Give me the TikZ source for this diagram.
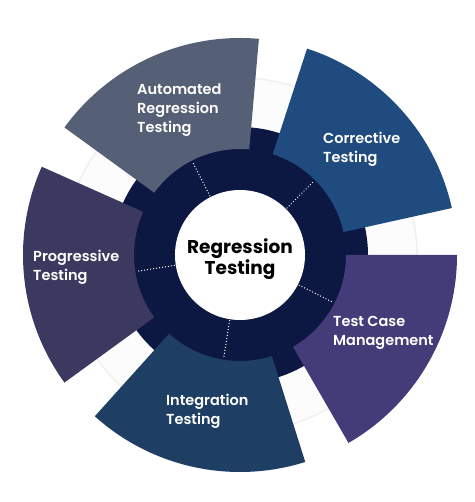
\documentclass[tikz,border=0pt]{standalone}
\usepackage{fontspec}
\setmainfont{Poppins}[BoldFont={Poppins SemiBold}]
\newfontfamily\heavyfont{Poppins Bold}
\definecolor{ringnavy}{HTML}{0C1742}
\definecolor{autogrey}{HTML}{555F75}
\definecolor{corrblue}{HTML}{1F4B7E}
\definecolor{tcpurple}{HTML}{433C78}
\definecolor{integblue}{HTML}{1E3F63}
\definecolor{proggrey}{HTML}{3B3960}
\tikzset{
  seglabel/.style={anchor=west, align=left, text=white, inner sep=0pt,
    font=\fontsize{14.5}{19}\selectfont\bfseries}
}
\begin{document}
\begin{tikzpicture}[x=1pt,y=1pt]
\useasboundingbox (-240,-247) rectangle (234,255);
\fill[gray!2, draw=gray!12, line width=1.5pt] (0,0) circle (177);
\fill[ringnavy] (0,0) circle (128);

\fill[tcpurple] (-60:106) arc (-60:0:106) -- (0:217) arc (0:-60:217) -- cycle;
\fill[corrblue] (12.5:106) arc (12.5:72:106) -- (72:217) arc (72:12.5:217) -- cycle;
\fill[autogrey] (85:106) arc (85:144:106) -- (144:217) arc (144:85:217) -- cycle;
\fill[proggrey] (156:106) arc (156:216:106) -- (216:217) arc (216:156:217) -- cycle;
\fill[integblue] (228:106) arc (228:287.5:106) -- (287.5:217) arc (287.5:228:217) -- cycle;

\foreach \a in {45,117,189,261,333}
  \draw[white, dotted, line width=1pt] (\a:66) -- (\a:104);

\node (hub) at (0,0) [circle, fill=white, minimum size=130pt] {};
\node (core) at (0,-4) [align=center, inner sep=0pt,
  font=\fontsize{18.5}{21}\selectfont\heavyfont] {Regression\\Testing};

\node (auto) at (-103,145) [seglabel] {Automated\\Regression\\Testing};
\node (corr) at (83,106) [seglabel] {Corrective\\Testing};
\node (prog) at (-207,-12) [seglabel] {Progressive\\Testing};
\node (tcm) at (93,-78) [seglabel] {Test Case\\Management};
\node (integ) at (-74,-156) [seglabel] {Integration\\Testing};
\end{tikzpicture}
\end{document}
